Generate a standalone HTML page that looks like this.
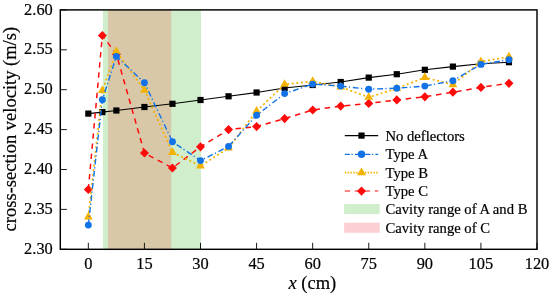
<!DOCTYPE html><html><head><meta charset="utf-8"><style>html,body{margin:0;padding:0;background:#fff;overflow:hidden}svg{display:block}text{font-family:"Liberation Serif",serif;fill:#000;stroke:#000;stroke-width:0.2px}</style></head><body>
<svg width="550" height="295" viewBox="0 0 550 295">
<rect width="550" height="295" fill="#fff"/>
<rect x="102.9" y="9.9" width="98.10" height="239.40" fill="#d0eecb"/>
<rect x="107.9" y="9.9" width="63.30" height="239.40" fill="#d8c8a8"/>
<polyline points="88.34,113.60 102.36,112.10 116.38,110.50 144.42,107.00 172.46,103.80 200.51,100.00 228.55,96.30 256.59,92.50 284.63,88.00 312.67,85.00 340.71,82.00 368.75,77.60 396.79,74.20 424.84,69.80 452.88,66.60 480.92,63.80 508.96,62.20" fill="none" stroke="#000000" stroke-width="1.15" stroke-linejoin="round"/><rect x="85.24" y="110.50" width="6.2" height="6.2" fill="#000000"/><rect x="99.26" y="109.00" width="6.2" height="6.2" fill="#000000"/><rect x="113.28" y="107.40" width="6.2" height="6.2" fill="#000000"/><rect x="141.32" y="103.90" width="6.2" height="6.2" fill="#000000"/><rect x="169.36" y="100.70" width="6.2" height="6.2" fill="#000000"/><rect x="197.41" y="96.90" width="6.2" height="6.2" fill="#000000"/><rect x="225.45" y="93.20" width="6.2" height="6.2" fill="#000000"/><rect x="253.49" y="89.40" width="6.2" height="6.2" fill="#000000"/><rect x="281.53" y="84.90" width="6.2" height="6.2" fill="#000000"/><rect x="309.57" y="81.90" width="6.2" height="6.2" fill="#000000"/><rect x="337.61" y="78.90" width="6.2" height="6.2" fill="#000000"/><rect x="365.65" y="74.50" width="6.2" height="6.2" fill="#000000"/><rect x="393.69" y="71.10" width="6.2" height="6.2" fill="#000000"/><rect x="421.74" y="66.70" width="6.2" height="6.2" fill="#000000"/><rect x="449.78" y="63.50" width="6.2" height="6.2" fill="#000000"/><rect x="477.82" y="60.70" width="6.2" height="6.2" fill="#000000"/><rect x="505.86" y="59.10" width="6.2" height="6.2" fill="#000000"/>
<polyline points="88.34,189.50 102.36,35.50 116.38,54.20 144.42,153.00 172.46,168.00 200.51,146.80 228.55,129.60 256.59,126.60 284.63,118.60 312.67,110.00 340.71,106.10 368.75,103.40 396.79,99.90 424.84,96.80 452.88,92.20 480.92,87.40 508.96,83.30" fill="none" stroke="#ff0a0a" stroke-width="1.5" stroke-dasharray="5.4 4.8" stroke-linejoin="round"/><polygon points="88.34,184.90 92.84,189.50 88.34,194.10 83.84,189.50" fill="#ff0a0a"/><polygon points="102.36,30.90 106.86,35.50 102.36,40.10 97.86,35.50" fill="#ff0a0a"/><polygon points="116.38,49.60 120.88,54.20 116.38,58.80 111.88,54.20" fill="#ff0a0a"/><polygon points="144.42,148.40 148.92,153.00 144.42,157.60 139.92,153.00" fill="#ff0a0a"/><polygon points="172.46,163.40 176.96,168.00 172.46,172.60 167.96,168.00" fill="#ff0a0a"/><polygon points="200.51,142.20 205.01,146.80 200.51,151.40 196.01,146.80" fill="#ff0a0a"/><polygon points="228.55,125.00 233.05,129.60 228.55,134.20 224.05,129.60" fill="#ff0a0a"/><polygon points="256.59,122.00 261.09,126.60 256.59,131.20 252.09,126.60" fill="#ff0a0a"/><polygon points="284.63,114.00 289.13,118.60 284.63,123.20 280.13,118.60" fill="#ff0a0a"/><polygon points="312.67,105.40 317.17,110.00 312.67,114.60 308.17,110.00" fill="#ff0a0a"/><polygon points="340.71,101.50 345.21,106.10 340.71,110.70 336.21,106.10" fill="#ff0a0a"/><polygon points="368.75,98.80 373.25,103.40 368.75,108.00 364.25,103.40" fill="#ff0a0a"/><polygon points="396.79,95.30 401.29,99.90 396.79,104.50 392.29,99.90" fill="#ff0a0a"/><polygon points="424.84,92.20 429.34,96.80 424.84,101.40 420.34,96.80" fill="#ff0a0a"/><polygon points="452.88,87.60 457.38,92.20 452.88,96.80 448.38,92.20" fill="#ff0a0a"/><polygon points="480.92,82.80 485.42,87.40 480.92,92.00 476.42,87.40" fill="#ff0a0a"/><polygon points="508.96,78.70 513.46,83.30 508.96,87.90 504.46,83.30" fill="#ff0a0a"/>
<polyline points="88.34,216.90 102.36,90.50 116.38,51.40 144.42,90.10 172.46,152.40 200.51,166.00 228.55,148.00 256.59,111.10 284.63,84.30 312.67,81.40 340.71,87.00 368.75,97.30 396.79,88.50 424.84,77.40 452.88,84.70 480.92,61.60 508.96,56.80" fill="none" stroke="#f4b200" stroke-width="1.7" stroke-dasharray="2.0 2.6" stroke-linejoin="round"/><polygon points="88.34,211.83 83.94,219.43 92.74,219.43" fill="#f4b200"/><polygon points="102.36,85.43 97.96,93.03 106.76,93.03" fill="#f4b200"/><polygon points="116.38,46.33 111.98,53.93 120.78,53.93" fill="#f4b200"/><polygon points="144.42,85.03 140.02,92.63 148.82,92.63" fill="#f4b200"/><polygon points="172.46,147.33 168.06,154.93 176.86,154.93" fill="#f4b200"/><polygon points="200.51,160.93 196.11,168.53 204.91,168.53" fill="#f4b200"/><polygon points="228.55,142.93 224.15,150.53 232.95,150.53" fill="#f4b200"/><polygon points="256.59,106.03 252.19,113.63 260.99,113.63" fill="#f4b200"/><polygon points="284.63,79.23 280.23,86.83 289.03,86.83" fill="#f4b200"/><polygon points="312.67,76.33 308.27,83.93 317.07,83.93" fill="#f4b200"/><polygon points="340.71,81.93 336.31,89.53 345.11,89.53" fill="#f4b200"/><polygon points="368.75,92.23 364.35,99.83 373.15,99.83" fill="#f4b200"/><polygon points="396.79,83.43 392.39,91.03 401.19,91.03" fill="#f4b200"/><polygon points="424.84,72.33 420.44,79.93 429.24,79.93" fill="#f4b200"/><polygon points="452.88,79.63 448.48,87.23 457.28,87.23" fill="#f4b200"/><polygon points="480.92,56.53 476.52,64.13 485.32,64.13" fill="#f4b200"/><polygon points="508.96,51.73 504.56,59.33 513.36,59.33" fill="#f4b200"/>
<polyline points="88.34,225.10 102.36,99.70 116.38,56.40 144.42,82.70 172.46,141.70 200.51,160.60 228.55,146.40 256.59,115.30 284.63,93.60 312.67,84.10 340.71,86.10 368.75,89.20 396.79,88.20 424.84,86.10 452.88,80.70 480.92,64.40 508.96,59.70" fill="none" stroke="#1272e8" stroke-width="1.4" stroke-dasharray="5.8 2.4 1.2 2.8" stroke-linejoin="round"/><circle cx="88.34" cy="225.10" r="3.45" fill="#1272e8"/><circle cx="102.36" cy="99.70" r="3.45" fill="#1272e8"/><circle cx="116.38" cy="56.40" r="3.45" fill="#1272e8"/><circle cx="144.42" cy="82.70" r="3.45" fill="#1272e8"/><circle cx="172.46" cy="141.70" r="3.45" fill="#1272e8"/><circle cx="200.51" cy="160.60" r="3.45" fill="#1272e8"/><circle cx="228.55" cy="146.40" r="3.45" fill="#1272e8"/><circle cx="256.59" cy="115.30" r="3.45" fill="#1272e8"/><circle cx="284.63" cy="93.60" r="3.45" fill="#1272e8"/><circle cx="312.67" cy="84.10" r="3.45" fill="#1272e8"/><circle cx="340.71" cy="86.10" r="3.45" fill="#1272e8"/><circle cx="368.75" cy="89.20" r="3.45" fill="#1272e8"/><circle cx="396.79" cy="88.20" r="3.45" fill="#1272e8"/><circle cx="424.84" cy="86.10" r="3.45" fill="#1272e8"/><circle cx="452.88" cy="80.70" r="3.45" fill="#1272e8"/><circle cx="480.92" cy="64.40" r="3.45" fill="#1272e8"/><circle cx="508.96" cy="59.70" r="3.45" fill="#1272e8"/>
<line x1="60.3" y1="249.30" x2="66.80" y2="249.30" stroke="#000" stroke-width="0.9"/>
<line x1="60.3" y1="209.40" x2="66.80" y2="209.40" stroke="#000" stroke-width="0.9"/>
<line x1="60.3" y1="169.50" x2="66.80" y2="169.50" stroke="#000" stroke-width="0.9"/>
<line x1="60.3" y1="129.60" x2="66.80" y2="129.60" stroke="#000" stroke-width="0.9"/>
<line x1="60.3" y1="89.70" x2="66.80" y2="89.70" stroke="#000" stroke-width="0.9"/>
<line x1="60.3" y1="49.80" x2="66.80" y2="49.80" stroke="#000" stroke-width="0.9"/>
<line x1="60.3" y1="9.90" x2="66.80" y2="9.90" stroke="#000" stroke-width="0.9"/>
<line x1="88.34" y1="249.3" x2="88.34" y2="242.80" stroke="#000" stroke-width="0.9"/>
<line x1="144.42" y1="249.3" x2="144.42" y2="242.80" stroke="#000" stroke-width="0.9"/>
<line x1="200.51" y1="249.3" x2="200.51" y2="242.80" stroke="#000" stroke-width="0.9"/>
<line x1="256.59" y1="249.3" x2="256.59" y2="242.80" stroke="#000" stroke-width="0.9"/>
<line x1="312.67" y1="249.3" x2="312.67" y2="242.80" stroke="#000" stroke-width="0.9"/>
<line x1="368.75" y1="249.3" x2="368.75" y2="242.80" stroke="#000" stroke-width="0.9"/>
<line x1="424.84" y1="249.3" x2="424.84" y2="242.80" stroke="#000" stroke-width="0.9"/>
<line x1="480.92" y1="249.3" x2="480.92" y2="242.80" stroke="#000" stroke-width="0.9"/>
<line x1="537.00" y1="249.3" x2="537.00" y2="242.80" stroke="#000" stroke-width="0.9"/>
<rect x="60.3" y="9.9" width="476.70" height="239.40" fill="none" stroke="#000" stroke-width="1.45"/>
<text x="52.8" y="253.90" font-size="16.4" text-anchor="end">2.30</text>
<text x="52.8" y="214.00" font-size="16.4" text-anchor="end">2.35</text>
<text x="52.8" y="174.10" font-size="16.4" text-anchor="end">2.40</text>
<text x="52.8" y="134.20" font-size="16.4" text-anchor="end">2.45</text>
<text x="52.8" y="94.30" font-size="16.4" text-anchor="end">2.50</text>
<text x="52.8" y="54.40" font-size="16.4" text-anchor="end">2.55</text>
<text x="52.8" y="14.50" font-size="16.4" text-anchor="end">2.60</text>
<text x="88.34" y="269.2" font-size="16.4" text-anchor="middle">0</text>
<text x="144.42" y="269.2" font-size="16.4" text-anchor="middle">15</text>
<text x="200.51" y="269.2" font-size="16.4" text-anchor="middle">30</text>
<text x="256.59" y="269.2" font-size="16.4" text-anchor="middle">45</text>
<text x="312.67" y="269.2" font-size="16.4" text-anchor="middle">60</text>
<text x="368.75" y="269.2" font-size="16.4" text-anchor="middle">75</text>
<text x="424.84" y="269.2" font-size="16.4" text-anchor="middle">90</text>
<text x="480.92" y="269.2" font-size="16.4" text-anchor="middle">105</text>
<text x="537.00" y="269.2" font-size="16.4" text-anchor="middle">120</text>
<text x="312.4" y="288.6" font-size="18.5" text-anchor="middle"><tspan font-style="italic">x</tspan> (cm)</text>
<text transform="translate(16.4,129.15) rotate(-90)" x="0" y="0" font-size="18.5" text-anchor="middle">cross-section velocity (m/s)</text>
<line x1="344.8" y1="135.6" x2="378.2" y2="135.6" stroke="#000000" stroke-width="1.4"/><rect x="358.40" y="132.50" width="6.2" height="6.2" fill="#000000"/>
<line x1="344.8" y1="154.3" x2="378.2" y2="154.3" stroke="#1272e8" stroke-width="1.25" stroke-dasharray="5.1 1.6 1.3 2.2"/><circle cx="361.50" cy="154.30" r="3.75" fill="#1272e8"/>
<line x1="344.8" y1="172.6" x2="378.2" y2="172.6" stroke="#f4b200" stroke-width="1.6" stroke-dasharray="1.5 1.35"/><polygon points="361.50,167.40 357.00,175.20 366.00,175.20" fill="#f4b200"/>
<line x1="344.8" y1="191.0" x2="378.2" y2="191.0" stroke="#ff0a0a" stroke-width="1.1" stroke-dasharray="5.3 4.7"/><polygon points="361.50,186.50 366.00,191.10 361.50,195.70 357.00,191.10" fill="#ff0a0a"/>
<rect x="344.1" y="204.0" width="35.6" height="10.1" fill="#d0eecb"/>
<rect x="344.1" y="222.7" width="35.6" height="10.1" fill="#fcd0d2"/>
<text x="385.5" y="140.70" font-size="14.65">No deflectors</text>
<text x="385.5" y="159.40" font-size="14.65">Type A</text>
<text x="385.5" y="177.70" font-size="14.65">Type B</text>
<text x="385.5" y="196.20" font-size="14.65">Type C</text>
<text x="385.5" y="214.10" font-size="14.65">Cavity range of A and B</text>
<text x="385.5" y="232.60" font-size="14.65">Cavity range of C</text>
</svg></body></html>
